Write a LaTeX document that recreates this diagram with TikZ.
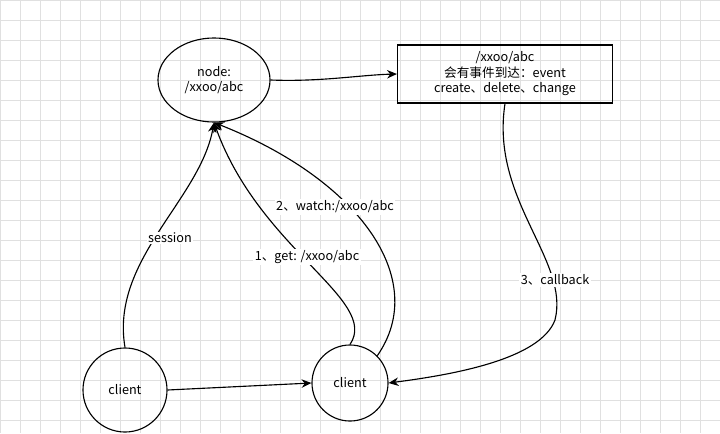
\documentclass[tikz,border=0pt]{standalone}
\usepackage{fontspec}
\setmainfont{Noto Sans CJK SC}
\usetikzlibrary{arrows.meta,shapes.geometric}
\tikzset{
  box/.style={draw,thick,font=\small,align=center},
  link/.style={draw,thick,-{Stealth[length=7pt,width=6pt]}},
  lab/.style={fill=white,font=\small,inner sep=1pt}
}
\begin{document}
\begin{tikzpicture}[x=0.025cm,y=-0.025cm]
% grid
    \useasboundingbox (0,0) rectangle (720,433);
    \draw[black!12,step=0.5cm] (0,0) grid (720,433);

% nodes
    \node[box,ellipse,minimum width=2.8cm,minimum height=2.1cm] (node) at (214,80) {node:\\/xxoo/abc};
    \node[box,rectangle,minimum width=5.375cm,minimum height=1.45cm,inner sep=2pt] (event) at (505,74) {/xxoo/abc\\会有事件到达：event\\create、delete、change};
    \node[box,circle,minimum size=2.1cm] (c1) at (125,390) {client};
    \node[box,circle,minimum size=1.9cm] (c2) at (350,383) {client};

% connectors
    \draw[link] (node.east) .. controls (320,82) and (360,75) .. (event.west);
    \draw[link] (c1.north) .. controls (110,260) and (200,200) .. (node.south);
    \draw[link] (c2.north) .. controls (380,300) and (260,250) .. (node.south);
    \draw[link] (c2.north east) .. controls (430,280) and (360,180) .. (node.south);
    \draw[link] (event.south) .. controls (490,200) and (570,260) .. (555,320) .. controls (540,360) and (450,375) .. (c2.east);
    \draw[link] (c1.east) -- (c2.west);

% labels
    \node[lab] (ls) at (170,238) {session};
    \node[lab] (lg) at (307,257) {1、get: /xxoo/abc};
    \node[lab] (lw) at (335,207) {2、watch:/xxoo/abc};
    \node[lab] (lc) at (555,280) {3、callback};
\end{tikzpicture}
\end{document}
